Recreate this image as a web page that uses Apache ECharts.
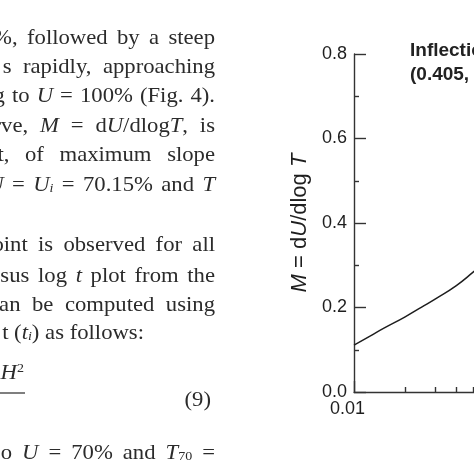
<!DOCTYPE html>
<html>
<head>
<meta charset="utf-8">
<script src="https://cdn.jsdelivr.net/npm/echarts@6/dist/echarts.min.js"></script>
<style>
  html, body { margin: 0; padding: 0; overflow: hidden; background: #fff; }
  #chart { width: 900px; height: 474px; }
</style>
</head>
<body>
<div id="chart"></div>
<script>
const timeT = [0.01, 0.0125, 0.015, 0.02, 0.025, 0.03, 0.04, 0.05, 0.056];
const slopeM = [0.111, 0.133, 0.151, 0.178, 0.201, 0.220, 0.252, 0.283, 0.300];
const xMajorTicks = [0.01, 0.1, 1, 10];
const xMinorTicks = [0.02, 0.03, 0.04, 0.05, 0.06, 0.07, 0.08, 0.09,
  0.2, 0.3, 0.4, 0.5, 0.6, 0.7, 0.8, 0.9, 2, 3, 4, 5, 6, 7, 8, 9];
const yMin = 0, yMax = 0.8, yStep = 0.2;

const serif = '"Liberation Serif", "DejaVu Serif", serif';
const sans = '"Liberation Sans", Arial, sans-serif';
const txtColor = '#2b2b2b';
const widen = 1.08; // the page font is a bit wider than Times

const baseStyle = { fontFamily: serif, fontSize: 21, fill: txtColor, lineHeight: 21 };
const bodyRich = {
  i: { fontFamily: serif, fontSize: 21, fontStyle: 'italic', fill: txtColor, lineHeight: 21 },
  sub: { fontFamily: serif, fontSize: 13, fontStyle: 'italic', fill: txtColor, lineHeight: 6, verticalAlign: 'bottom' },
  subn: { fontFamily: serif, fontSize: 13, fill: txtColor, lineHeight: 6, verticalAlign: 'bottom' },
  sup: { fontFamily: serif, fontSize: 13, fill: txtColor, lineHeight: 6, verticalAlign: 'top' }
};

// page text beside the figure (justified column, clipped on the left)
// words, index of first whole word, its left x in the picture (null = plain spacing), right edge, baseline
const bodyLines = [
  [['%,', 'followed', 'by', 'a', 'steep'], 1, 27, 215, 45],
  [['s', 'rapidly,', 'approaching'], 1, 23, 215, 74],
  [['g', 'to', '{i|U}', '=', '100%', '(Fig.', '4).'], 1, 12, 215, 103],
  [['rve,', '{i|M}', '=', 'd{i|U}/dlog{i|T},', 'is'], 1, 40, 215, 133],
  [['int,', 'of', 'maximum', 'slope'], 1, 25, 215, 162],
  [['{i|U}', '=', '{i|U}{sub|i}', '=', '70.15%', 'and', '{i|T}'], 1, 12, 215, 192],
  [['point', 'is', 'observed', 'for', 'all'], 1, 38, 215, 252],
  [['sus', 'log', '{i|t}', 'plot', 'from', 'the'], 1, 38, 215, 283],
  [['an', 'be', 'computed', 'using'], 1, 32, 215, 312],
  [['t', '({i|t}{sub|i})', 'as', 'follows:'], 1, null, 144, 340],
  [['o', '{i|U}', '=', '70%', 'and', '{i|T}{subn|70}', '='], 1, 22, 215, 460]
];

const measureCtx = document.createElement('canvas').getContext('2d');
function fontOf(st) {
  return (st.fontStyle || 'normal') + ' normal ' + st.fontSize + 'px ' + st.fontFamily;
}
function wordWidth(w) {
  let total = 0;
  const re = /\{(\w+)\|([^}]*)\}|([^{]+)/g;
  let m;
  while ((m = re.exec(w))) {
    const st = m[1] ? bodyRich[m[1]] : baseStyle;
    measureCtx.font = fontOf(st);
    total += measureCtx.measureText(m[1] ? m[2] : m[3]).width;
  }
  return total * widen;
}
measureCtx.font = fontOf(baseStyle);
const plainSpace = measureCtx.measureText(' ').width * widen;

const graphics = [];
bodyLines.forEach(function (l) {
  const words = l[0], k = l[1], at = l[2], right = l[3], base = l[4];
  const widths = words.map(wordWidth);
  let space = plainSpace;
  let startX;
  if (at !== null) {
    let w = 0;
    for (let j = k; j < words.length; j++) w += widths[j];
    space = (right - at - w) / (words.length - 1 - k);
    startX = at;
    for (let j = k - 1; j >= 0; j--) startX -= widths[j] + space;
  } else {
    const w = widths.reduce(function (a, b) { return a + b; }, 0);
    startX = right - w - space * (words.length - 1);
  }
  let x = startX;
  words.forEach(function (word, j) {
    graphics.push({
      type: 'text',
      x: x,
      y: base - 7,
      scaleX: widen,
      silent: true,
      style: Object.assign({}, baseStyle, {
        text: word, align: 'left', verticalAlign: 'middle', rich: bodyRich
      })
    });
    x += widths[j] + space;
  });
});

// numerator and equation number of eq. (9)
graphics.push({
  type: 'text', x: 24, y: 380 - 7, scaleX: widen, silent: true,
  style: Object.assign({}, baseStyle, { text: '{i|H}{sup|2}', align: 'right', verticalAlign: 'middle', rich: bodyRich })
});
graphics.push({
  type: 'text', x: 211, y: 407 - 7, scaleX: widen, silent: true,
  style: Object.assign({}, baseStyle, { text: '(9)', align: 'right', verticalAlign: 'middle' })
});
graphics.push({
  type: 'line', silent: true,
  shape: { x1: 0, y1: 393, x2: 25, y2: 393 },
  style: { stroke: txtColor, lineWidth: 1.2 }
});

// inflection point note
graphics.push({
  type: 'text', x: 410, y: 63, silent: true,
  style: {
    text: 'Inflection point\n(0.405, 0.76)',
    fontFamily: sans, fontSize: 19, fontWeight: 'bold', lineHeight: 24,
    fill: '#222', align: 'left', verticalAlign: 'middle'
  }
});

const chart = echarts.init(document.getElementById('chart'));

const option = {
  animation: false,
  backgroundColor: '#fff',
  grid: { left: 354, top: 54, width: 510, height: 338, containLabel: false, outerBoundsMode: 'none' },
  xAxis: [
    {
      type: 'log', logBase: 10, min: 0.01, max: 10, position: 'bottom',
      axisLine: { lineStyle: { color: '#333', width: 1.4 } },
      axisTick: { inside: true, length: 11, customValues: xMajorTicks, lineStyle: { color: '#333', width: 1.4 } },
      axisLabel: {
        customValues: xMajorTicks, margin: 8, color: '#1e1e1e', fontFamily: sans, fontSize: 18,
        padding: [0, 13, 0, 0],
        formatter: function (v) { return String(+Number(v).toPrecision(3)); }
      },
      splitLine: { show: false }
    },
    {
      // minor log ticks only
      type: 'log', logBase: 10, min: 0.01, max: 10, position: 'bottom',
      axisLine: { show: false },
      axisTick: { inside: true, length: 5, customValues: xMinorTicks, lineStyle: { color: '#333', width: 1.4 } },
      axisLabel: { show: false },
      splitLine: { show: false }
    }
  ],
  yAxis: {
    type: 'value', min: yMin, max: yMax, interval: yStep,
    name: '{i|M} = d{i|U}/dlog {i|T}',
    nameLocation: 'middle', nameRotate: 90, nameGap: 37,
    nameTextStyle: {
      fontFamily: sans, fontSize: 22, color: '#1e1e1e',
      rich: { i: { fontFamily: sans, fontSize: 22, fontStyle: 'italic', color: '#1e1e1e' } }
    },
    axisLine: { show: true, lineStyle: { color: '#333', width: 1.4 } },
    axisTick: { show: true, inside: true, length: 12, lineStyle: { color: '#333', width: 1.4 } },
    minorTick: { show: true, splitNumber: 2, length: 5, lineStyle: { color: '#333', width: 1.4 } },
    axisLabel: {
      margin: 7, color: '#1e1e1e', fontFamily: sans, fontSize: 18,
      formatter: function (v) { return v.toFixed(1); }
    },
    splitLine: { show: false }
  },
  series: [{
    type: 'line', xAxisIndex: 0,
    data: timeT.map(function (t, i) { return [t, slopeM[i]]; }),
    smooth: true, showSymbol: false,
    lineStyle: { color: '#1e1e1e', width: 1.5 },
    clip: true
  }],
  graphic: graphics
};

chart.setOption(option);
</script>
</body>
</html>
